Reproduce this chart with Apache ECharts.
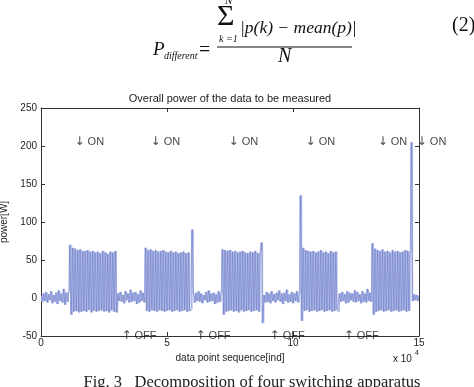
<!DOCTYPE html>
<html><head><meta charset="utf-8">
<script src="https://cdn.jsdelivr.net/npm/echarts@6/dist/echarts.min.js"></script>
<style>html,body{margin:0;padding:0;background:#fff}#c{width:474px;height:387px}</style>
</head><body><div id="c"></div>
<script>
// sample spacing of the measured signal (data point index)
const sampleStep = 500;
// power [W] per sample
const off1 = [3,-5,6,-4,8,-6,5,-3,9,-7,4,-5,7,-8,10,-4,6,-6,12,-9,7,-5,8];
const on1  = [70,-22,66,-18,65,-17,63,-19,64,-18,62,-17,62,-18,63,-16,61,-19,62,-17,
              60,-18,61,-17,59,-16,62,-18,60,-17,58,-19,61,-16,60,-18,62,-19];
const off2 = [6,-4,8,-5,4,-7,9,-3,6,-6,11,-5,7,-4,8,-8,5,-6,10,-4,7,-6];
const on2  = [66,-17,63,-18,64,-16,62,-17,63,-18,61,-16,62,-17,63,-18,61,-17,60,-16,
              62,-18,60,-17,61,-16,59,-18,60,-17,61,-16,59,-18,60,-17,-15,90];
const off3 = [5,-6,7,-4,9,-5,6,-7,4,-3,8,-6,10,-5,6,-4,7,-8,5,-6,9,-5,6];
const on3  = [64,-22,63,-18,62,-17,63,-16,61,-18,62,-17,60,-19,61,-16,62,-18,60,-17,
              59,-16,61,-18,60,-17,62,-16,59,-18,60,73,-33];
const off4 = [4,-6,8,-5,6,-7,9,-4,5,-6,7,-3,10,-5,6,-8,7,-4,11,-6,5,-5,8,-7,6,-4,9,-6,5];
const on4  = [135,-30,66,-17,63,-16,62,-18,61,-17,62,-16,60,-18,61,-17,63,-16,60,-18,
              61,-17,59,-16,62,-18,60,-17,61,-16,-18];
const off5 = [6,-5,8,-4,5,-7,9,-6,7,-3,6,-5,10,-6,8,-4,5,-7,9,-5,6,-6,12,-4,7,-5];
const on5  = [72,-22,65,-18,63,-17,62,-16,64,-18,61,-17,62,-16,60,-18,63,-17,61,-16,
              62,-18,60,-17,61,-16,63,-18,62,-17,60];
const off6 = [205,-4,5,-3,4,-4,3];

// annotation positions (data point index) and their levels [W]
const onMarks  = [13100, 43270, 74240, 104800, 133400, 148900];
const onLevel  = 205;
const offMarks = [31700, 61100, 90500, 119900];
const offLevel = -50;

const xTicks = [0, 5, 10, 15];      // x 10^4
const yTicks = [-50, 0, 50, 100, 150, 200, 250];

const power = [].concat(off1,on1,off2,on2,off3,on3,off4,on4,off5,on5,off6);
const signal = power.map((v,i)=>[i*sampleStep, v]);
// min/max between neighbouring samples: the area swept by the dense trace
const sweep = power.slice(0,-1).map((v,i)=>{
  const w = power[i+1];
  return [i*sampleStep, Math.min(v,w), Math.max(v,w)];
});

const sans = 'Liberation Sans, Arial, sans-serif';
const serif = 'Liberation Serif, Times New Roman, serif';
const axCol = '#333';

const chart = echarts.init(document.getElementById('c'));
const xMin = xTicks[0]*1e4, xMax = xTicks[xTicks.length-1]*1e4, xInt = (xTicks[1]-xTicks[0])*1e4;
const yMin = yTicks[0], yMax = yTicks[yTicks.length-1], yInt = yTicks[1]-yTicks[0];
const baseAxis = () => ({
  type:'value', splitLine:{show:false},
  axisLine:{show:true, onZero:false, lineStyle:{color:axCol, width:1}},
  axisTick:{show:true, inside:true, length:4, lineStyle:{color:axCol}},
});
const markLabel = (txt) => ({
  show:true, position:'right', distance:0, formatter:'{a|'+txt[0]+'}'+txt.slice(1),
  fontSize:11, fontFamily:sans, color:'#111',
  rich:{a:{fontFamily:'DejaVu Sans', fontSize:12, color:'#111'}}
});
chart.setOption({
  animation:false,
  grid:{left:41, right:55, top:108, bottom:51, containLabel:false, outerBoundsMode:'none'},
  xAxis:[
    Object.assign(baseAxis(), {position:'bottom', min:xMin, max:xMax, interval:xInt,
      axisLabel:{margin:2, fontSize:10, fontFamily:sans, color:'#222', formatter:v=>String(v/1e4)},
      name:'data point sequence[ind]', nameLocation:'middle', nameGap:13,
      nameTextStyle:{fontSize:10, fontFamily:sans, color:'#222'}}),
    Object.assign(baseAxis(), {position:'top', min:xMin, max:xMax, interval:xInt, axisLabel:{show:false}})
  ],
  yAxis:[
    Object.assign(baseAxis(), {position:'left', min:yMin, max:yMax, interval:yInt,
      axisLabel:{margin:4, fontSize:10, fontFamily:sans, color:'#222'},
      name:'power[W]', nameLocation:'middle', nameGap:29,
      nameTextStyle:{fontSize:10, fontFamily:sans, color:'#222'}}),
    Object.assign(baseAxis(), {position:'right', min:yMin, max:yMax, interval:yInt, axisLabel:{show:false}})
  ],
  series:[
    {type:'custom', data:sweep, z:2, silent:true, clip:true,
     encode:{x:0, y:[1,2]},
     renderItem:(params, api)=>{
       const a = api.coord([api.value(0), api.value(2)]);
       const b = api.coord([api.value(0)+sampleStep, api.value(1)]);
       return {type:'rect', shape:{x:a[0], y:a[1], width:b[0]-a[0]+0.4, height:b[1]-a[1]},
               style:{fill:'#aab5e5'}};
     }},
    // the trace itself
    {type:'line', data:signal, showSymbol:false, sampling:null, z:3,
     lineStyle:{color:'#5264b8', width:0.5, opacity:0.7}},
    {type:'scatter', data:onMarks.map(x=>[x,onLevel]), symbolSize:1, z:4,
     itemStyle:{color:'rgba(0,0,0,0)'}, label:markLabel('↓ ON')},
    {type:'scatter', data:offMarks.map(x=>[x,offLevel]), symbolSize:1, z:4,
     itemStyle:{color:'rgba(0,0,0,0)'}, label:markLabel('↑ OFF')}
  ],
  graphic:[
    {type:'text', x:230, y:99, style:{text:'Overall power of the data to be measured', font:'11px '+sans, fill:'#222', textAlign:'center', textVerticalAlign:'middle'}},
    {type:'text', x:393, y:359, style:{text:'x 10', font:'10px '+sans, fill:'#222', textVerticalAlign:'middle'}},
    {type:'text', x:415, y:353, style:{text:'4', font:'7px '+sans, fill:'#222', textVerticalAlign:'middle'}},
    // formula
    {type:'text', x:153, y:50, style:{text:'P', font:'italic 19px '+serif, fill:'#111', textVerticalAlign:'middle'}},
    {type:'text', x:164, y:56, style:{text:'different', font:'italic 10px '+serif, fill:'#111', textVerticalAlign:'middle'}},
    {type:'text', x:199, y:51, style:{text:'=', font:'20px '+serif, fill:'#111', textVerticalAlign:'middle'}},
    {type:'text', x:217, y:17, style:{text:'Σ', font:'30px '+serif, fill:'#111', textVerticalAlign:'middle'}},
    {type:'text', x:225, y:1, style:{text:'N', font:'italic 11px '+serif, fill:'#111', textVerticalAlign:'middle'}},
    {type:'text', x:219, y:39, style:{text:'k =1', font:'italic 10px '+serif, fill:'#111', textVerticalAlign:'middle'}},
    {type:'text', x:240, y:28, style:{text:'|p(k) − mean(p)|', font:'italic 17.5px '+serif, fill:'#111', textVerticalAlign:'middle'}},
    {type:'line', shape:{x1:217, y1:47, x2:352, y2:47}, style:{stroke:'#111', lineWidth:1}},
    {type:'text', x:278, y:57, style:{text:'N', font:'italic 20px '+serif, fill:'#111', textVerticalAlign:'middle'}},
    {type:'text', x:452, y:26, style:{text:'(2)', font:'20px '+serif, fill:'#111', textVerticalAlign:'middle'}},
    // caption (cut by the picture edge)
    {type:'text', x:252, y:383, style:{text:'Fig. 3   Decomposition of four switching apparatus', font:'16.5px '+serif, fill:'#222', textAlign:'center', textVerticalAlign:'middle'}}
  ]
});
</script></body></html>
